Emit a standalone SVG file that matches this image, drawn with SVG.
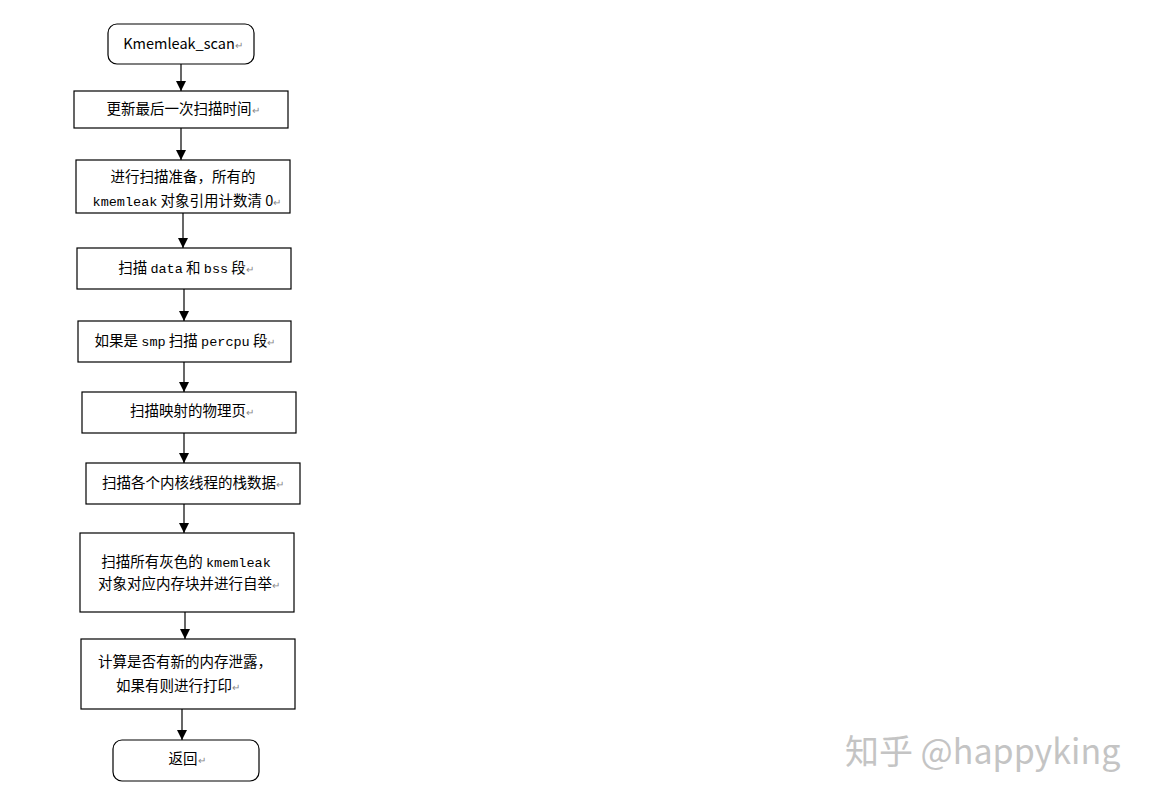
<svg xmlns="http://www.w3.org/2000/svg" width="1152" height="803" viewBox="0 0 1152 803">
<style>
.box{fill:#fff;stroke:#000;stroke-width:1.2}
.t{font-family:"Noto Sans CJK SC","Noto Sans",sans-serif;font-size:14.5px;fill:#000;text-anchor:middle}
.m{font-family:"Liberation Mono",monospace;font-size:13.5px}
.p{font-size:10px;fill:#888}
.c{stroke:#000;stroke-width:1.2;fill:none;marker-end:url(#ah)}
.wm{font-family:"Noto Sans CJK SC","Lato",sans-serif;font-size:34px;fill:#c4c4c4}
</style>
<defs>
<marker id="ah" markerWidth="11" markerHeight="11" refX="10" refY="5" orient="auto" markerUnits="userSpaceOnUse">
<path d="M0,0 L10,5 L0,10 Z" fill="#000"/>
</marker>
</defs>
<rect width="1152" height="803" fill="#fff"/>
<g id="connectors">
<line class="c" x1="181" y1="64" x2="181" y2="91"/>
<line class="c" x1="181" y1="128" x2="181" y2="160"/>
<line class="c" x1="183" y1="213" x2="183" y2="248"/>
<line class="c" x1="184" y1="289" x2="184" y2="321"/>
<line class="c" x1="184" y1="362" x2="184" y2="392"/>
<line class="c" x1="184" y1="433" x2="184" y2="463"/>
<line class="c" x1="184" y1="504" x2="184" y2="533"/>
<line class="c" x1="185" y1="612" x2="185" y2="639"/>
<line class="c" x1="182" y1="709" x2="182" y2="740"/>
</g>
<g id="n1">
<rect class="box" x="108" y="24" width="146" height="40" rx="9"/>
<text class="t" x="183" y="49">Kmemleak_scan<tspan class="p">↵</tspan></text>
</g>
<g id="n2">
<rect class="box" x="74" y="91" width="214" height="37"/>
<text class="t" x="183" y="114">更新最后一次扫描时间<tspan class="p">↵</tspan></text>
</g>
<g id="n3">
<rect class="box" x="76" y="160" width="214" height="53"/>
<text class="t" x="183" y="182">进行扫描准备，所有的</text>
<text class="t" x="187" y="206"><tspan class="m">kmemleak</tspan> 对象引用计数清 0<tspan class="p">↵</tspan></text>
</g>
<g id="n4">
<rect class="box" x="77" y="248" width="214" height="41"/>
<text class="t" x="186" y="273">扫描 <tspan class="m">data</tspan> 和 <tspan class="m">bss</tspan> 段<tspan class="p">↵</tspan></text>
</g>
<g id="n5">
<rect class="box" x="78" y="321" width="213" height="41"/>
<text class="t" x="185" y="346">如果是 <tspan class="m">smp</tspan> 扫描 <tspan class="m">percpu</tspan> 段<tspan class="p">↵</tspan></text>
</g>
<g id="n6">
<rect class="box" x="82" y="392" width="214" height="41"/>
<text class="t" x="192" y="416">扫描映射的物理页<tspan class="p">↵</tspan></text>
</g>
<g id="n7">
<rect class="box" x="86" y="463" width="214" height="41"/>
<text class="t" x="193" y="488">扫描各个内核线程的栈数据<tspan class="p">↵</tspan></text>
</g>
<g id="n8">
<rect class="box" x="80" y="533" width="214" height="79"/>
<text class="t" x="186" y="567">扫描所有灰色的 <tspan class="m">kmemleak</tspan></text>
<text class="t" x="189" y="589">对象对应内存块并进行自举<tspan class="p">↵</tspan></text>
</g>
<g id="n9">
<rect class="box" x="81" y="639" width="214" height="70"/>
<text class="t" x="185" y="667">计算是否有新的内存泄露，</text>
<text class="t" x="178" y="691">如果有则进行打印<tspan class="p">↵</tspan></text>
</g>
<g id="n10">
<rect class="box" x="113" y="740" width="146" height="41" rx="9"/>
<text class="t" x="187" y="764">返回<tspan class="p">↵</tspan></text>
</g>
<text class="wm" x="845" y="764">知乎 @happyking</text>
</svg>
